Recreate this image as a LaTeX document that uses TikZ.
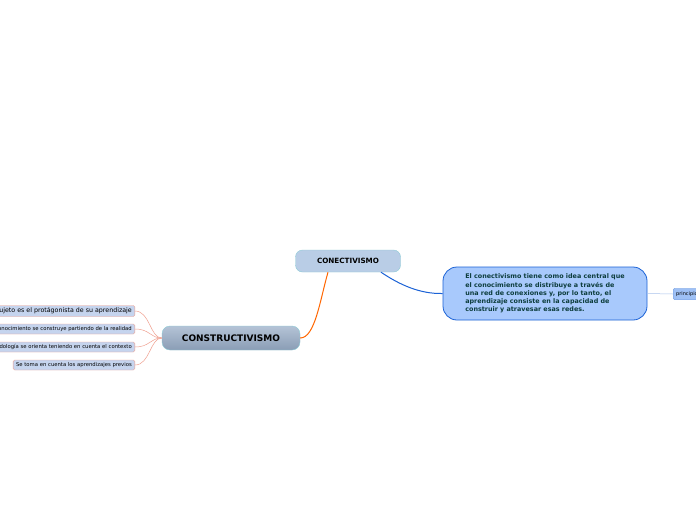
\documentclass[tikz,border=0pt]{standalone}
\usepackage{fontspec}
\setmainfont{DejaVu Sans}
\usetikzlibrary{calc}
\definecolor{leaffill}{HTML}{C5D4EE}
\definecolor{leafdraw}{HTML}{F0A090}
\definecolor{confill}{HTML}{B9CDE6}
\definecolor{condraw}{HTML}{8CCBD6}
\definecolor{constop}{HTML}{B4C3D6}
\definecolor{consbot}{HTML}{8A9DB5}
\definecolor{bigfill}{HTML}{A8C9FC}
\definecolor{bigdraw}{HTML}{1B62D6}
\definecolor{bigtext}{HTML}{0D3D3D}
\definecolor{prfill}{HTML}{9EC0F5}
\definecolor{prdraw}{HTML}{6F9BE0}
\begin{document}
\begin{tikzpicture}[x=1pt,y=-1pt,
 leaf/.style={draw=leafdraw,fill=leaffill,rounded corners=1.5pt,minimum height=10pt,inner xsep=3pt,inner ysep=1pt,anchor=east,font=\fontsize{5.3}{6}\selectfont},
 lk/.style={draw=leafdraw,line width=0.5pt},
]
\useasboundingbox (0,0) rectangle (696,520);
\clip (0,0) rectangle (696,520);
\fill[white] (0,0) rectangle (696,520);
\node[draw=condraw,fill=confill,rounded corners=7pt,minimum width=105pt,minimum height=22pt,font=\bfseries\fontsize{7.2}{8}\selectfont] (con) at (348,261) {CONECTIVISMO};
\node[draw=condraw,top color=constop,bottom color=consbot,rounded corners=8pt,minimum width=138pt,minimum height=24pt,font=\bfseries\fontsize{9}{10}\selectfont] (cons) at (231,338) {CONSTRUCTIVISMO};
\node[draw=bigdraw,fill=bigfill,line width=0.8pt,rounded corners=14pt,minimum width=204pt,minimum height=53pt,align=left,font=\bfseries\fontsize{6.4}{8.2}\selectfont,text=bigtext] (big) at (545,293.5) {El conectivismo tiene como idea central que\\el conocimiento se distribuye a través de\\una red de conexiones y, por lo tanto, el\\aprendizaje consiste en la capacidad de\\construir y atravesar esas redes.};
\node[draw=prdraw,fill=prfill,rounded corners=1.5pt,minimum height=11pt,anchor=west,inner xsep=3pt,font=\fontsize{5}{6}\selectfont] (pr) at (673,294) {principios};
\node[leaf,font=\fontsize{6.3}{7}\selectfont,minimum height=11pt] (l1) at (135,311) {El sujeto es el protágonista de su aprendizaje};
\node[leaf] (l2) at (135,329) {El conocimiento se construye partiendo de la realidad};
\node[leaf] (l3) at (135,347) {La metodología se orienta teniendo en cuenta el contexto};
\node[leaf] (l4) at (135,365) {Se toma en cuenta los aprendizajes previos};
\draw[orange!80!red,line width=1pt] (cons.east) .. controls (315,338) and (320,300) .. ($(con.south)+(-20,0)$);
\draw[bigdraw,line width=1pt] ($(con.south)+(33,0)$) .. controls (400,285) and (420,294) .. (big.west);
\draw[prdraw!60,line width=0.5pt] (big.east) -- (pr.west);
\foreach \l in {l1,l2,l3,l4}{\draw[lk] (cons.west) .. controls (150,338) and ([xshift=15pt]\l.east) .. (\l.east);}
\end{tikzpicture}
\end{document}
